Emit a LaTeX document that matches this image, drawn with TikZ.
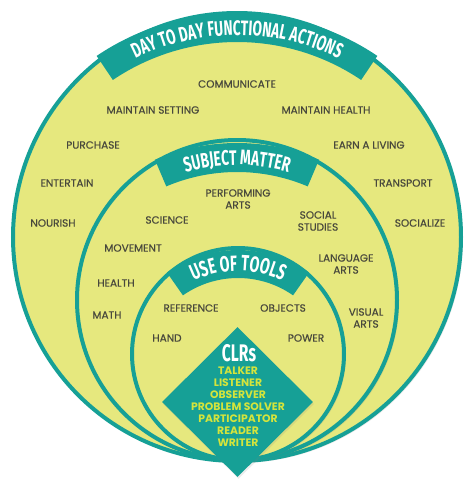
\documentclass[tikz,border=0pt]{standalone}
\usepackage{fontspec}
\setmainfont{Poppins}
\newfontfamily\wordfont[UprightFeatures={FakeBold=0.5}]{Poppins}
\newfontfamily\bannerfont[FakeStretch=0.65]{Fira Sans}
\usetikzlibrary{decorations.text,shapes.geometric,shadows}
\definecolor{ringteal}{RGB}{22,160,150}
\definecolor{ringfill}{RGB}{230,232,126}
\definecolor{wordgray}{RGB}{72,72,60}
\definecolor{clrgreen}{RGB}{212,228,60}
\newcommand{\ribbon}[7]{%
  \fill[ringteal] ([shift={(#1,#2)}]#5:#3) arc[start angle=#5, end angle=#6, radius=#3]
    -- ([shift={(#1,#2)}]#6:#4) arc[start angle=#6, end angle=#5, radius=#4] -- cycle;
  \path[decorate, decoration={text along path, text align=center, text color=white,
    text={#7}}] ([shift={(#1,#2)}]#6:#3+7) arc[start angle=#6, end angle=#5, radius=#3+7];
}
\tikzset{
  ring/.style={circle, draw=ringteal, fill=ringfill, line width=4pt, inner sep=0pt,
    drop shadow={shadow xshift=2pt, shadow yshift=-2pt, opacity=0.18}},
  word/.style={font=\wordfont\fontsize{10.5}{12}\selectfont, text=wordgray, align=center, inner sep=1pt},
  role/.style={font=\bfseries\fontsize{10.8}{12}\selectfont, text=clrgreen, align=center}
}

\begin{document}
\begin{tikzpicture}[x=1pt, y=1pt]
         \useasboundingbox (0,0) rectangle (474,-493);
         \node (DTD) [ring, minimum size=448pt] at (237,-237) {};
         \ribbon{237}{-264}{222}{251}{56}{124}{|\bannerfont\bfseries\fontsize{21}{21}\selectfont|DAY TO DAY FUNCTIONAL ACTIONS}
         \node (SM) [ring, minimum size=320pt] at (237,-300) {};
         \ribbon{237}{-353}{181}{210}{67}{113}{|\bannerfont\bfseries\fontsize{21}{21}\selectfont|SUBJECT MATTER}
         \node (UT) [ring, minimum size=212pt] at (238,-354) {};
         \ribbon{238}{-374}{96}{124}{55}{125}{|\bannerfont\bfseries\fontsize{22}{22}\selectfont|USE OF TOOLS}
         \node (CLR) [diamond, fill=ringteal, minimum width=151pt, minimum height=150pt, inner sep=0pt,
           drop shadow={shadow xshift=1pt, shadow yshift=-2pt, opacity=0.15}] at (237.5,-402) {};
         \node (COM) [word] at (237,-84) {COMMUNICATE};
         \node (MS) [word] at (153,-110) {MAINTAIN SETTING};
         \node (MH) [word] at (326,-110) {MAINTAIN HEALTH};
         \node (PUR) [word] at (93,-145) {PURCHASE};
         \node (EAL) [word] at (369,-145) {EARN A LIVING};
         \node (ENT) [word] at (67,-183) {ENTERTAIN};
         \node (TRA) [word] at (403,-183) {TRANSPORT};
         \node (NOU) [word] at (53,-223) {NOURISH};
         \node (SOC) [word] at (420,-223) {SOCIALIZE};
         \node (PA) [word] at (238,-199) {PERFORMING\\ARTS};
         \node (SCI) [word] at (167,-220) {SCIENCE};
         \node (SS) [word] at (318,-221) {SOCIAL\\STUDIES};
         \node (MOV) [word] at (133,-248) {MOVEMENT};
         \node (LA) [word] at (346,-264) {LANGUAGE\\ARTS};
         \node (HEA) [word] at (116,-283) {HEALTH};
         \node (MAT) [word] at (107,-315) {MATH};
         \node (VA) [word] at (366,-318) {VISUAL\\ARTS};
         \node (REF) [word] at (191,-308) {REFERENCE};
         \node (OBJ) [word] at (283,-308) {OBJECTS};
         \node (HAN) [word] at (167,-338) {HAND};
         \node (POW) [word] at (306,-338) {POWER};
         \node (CT) [text=white, font=\bannerfont\bfseries\fontsize{24}{24}\selectfont] at (239,-353) {CLRs};
         \node (CL) [role] at (238,-407) {TALKER\\LISTENER\\OBSERVER\\PROBLEM SOLVER\\PARTICIPATOR\\READER\\WRITER};
\end{tikzpicture}
\end{document}
